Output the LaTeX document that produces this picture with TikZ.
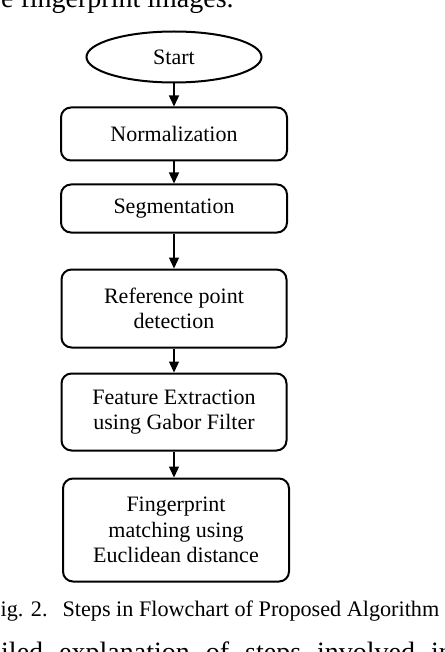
\documentclass[tikz,border=0pt]{standalone}
\usepackage{fontspec}
\setmainfont{Liberation Serif}
\usetikzlibrary{shapes.geometric,arrows.meta}
\begin{document}
\begin{tikzpicture}[x=1pt,y=-1pt,
  boxstyle/.style={draw, line width=2pt, rounded corners=10pt, align=center,
    font=\fontsize{22}{25.5}\selectfont, inner sep=0pt},
  ovalstyle/.style={draw, ellipse, line width=2pt, inner sep=0pt,
    font=\fontsize{22}{25.5}\selectfont},
  arr/.style={line width=1.4pt, -{Triangle[length=11pt,width=10pt]}},
  pagetext/.style={anchor=base west, inner sep=0pt}]
\useasboundingbox (0,0) rectangle (444,652);
\clip (0,0) rectangle (444,652);
\node[pagetext, font=\fontsize{28}{30}\selectfont] (toptext) at (1,8) {e fingerprint images.};
\node[ovalstyle, minimum width=175pt, minimum height=51pt] (start) at (174,57) {Start};
\node[boxstyle, minimum width=226pt, minimum height=53pt] (norm) at (174,134) {Normalization};
\node[boxstyle, minimum width=226pt, minimum height=48pt] (seg) at (174,208.5) {Segmentation};
\node[boxstyle, minimum width=225pt, minimum height=78pt] (ref) at (174,308.5) {Reference point\\detection};
\node[boxstyle, minimum width=225pt, minimum height=77pt] (feat) at (174,412) {Feature Extraction\\using Gabor Filter};
\node[boxstyle, minimum width=226pt, minimum height=103pt] (fing) at (176,530) {Fingerprint\\matching using\\Euclidean distance};
\node[pagetext, font=\fontsize{22.2}{25}\selectfont] (caption) at (0.5,616) {ig. 2.\hspace{15pt}Steps in Flowchart of Proposed Algorithm};
\node[pagetext, font=\fontsize{28}{30}\selectfont] (bottomtext) at (1,661) {iled\hspace{16pt}explanation\hspace{16pt}of\hspace{16pt}steps\hspace{16pt}involved\hspace{16pt}in};
\draw[arr] (start.south) -- (norm.north);
\draw[arr] (norm.south) -- (seg.north);
\draw[arr] (seg.south) -- (ref.north);
\draw[arr] (ref.south) -- (feat.north);
\draw[arr] (feat.south) -- (feat.south |- fing.north);
\end{tikzpicture}
\end{document}
